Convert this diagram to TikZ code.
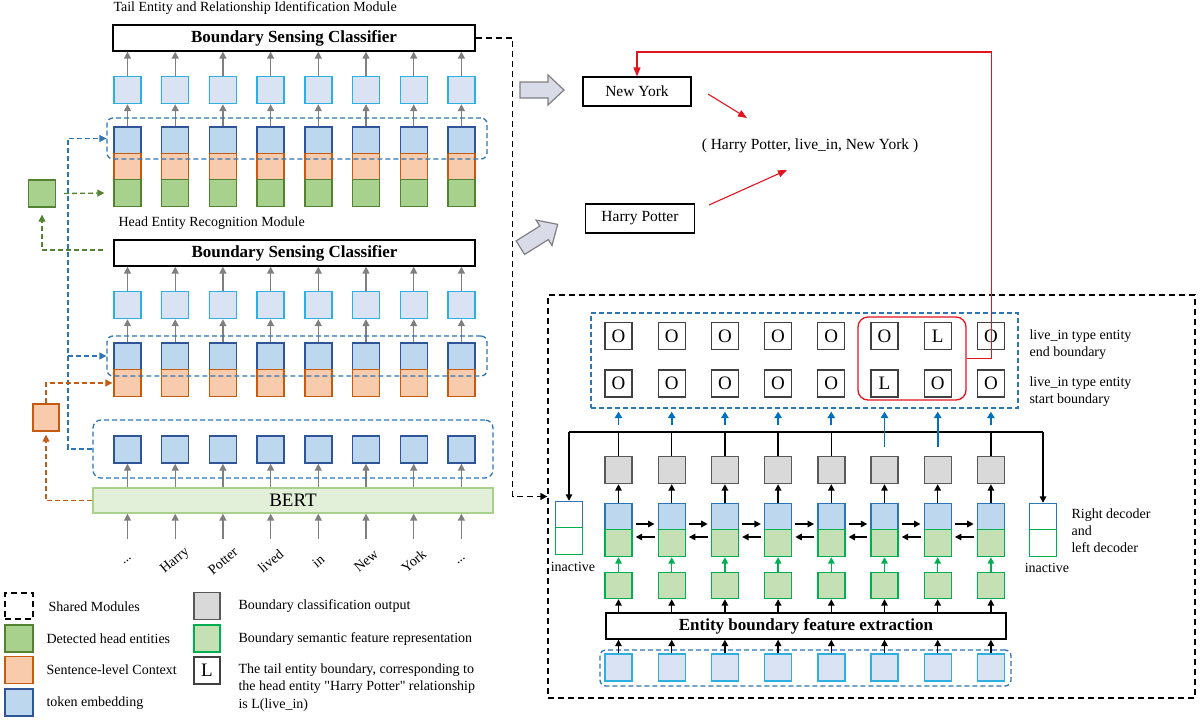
\documentclass[tikz,border=0pt]{standalone}
\usepackage{fontspec}
\setmainfont{Liberation Serif}
\usetikzlibrary{arrows.meta,calc}
\definecolor{cyanB}{HTML}{2DB0E0}
\definecolor{lavF}{HTML}{DAE3F3}
\definecolor{tokF}{HTML}{BDD7EE}
\definecolor{tokB}{HTML}{2F5597}
\definecolor{orF}{HTML}{F8CBAD}
\definecolor{orB}{HTML}{C55A11}
\definecolor{hgF}{HTML}{A9D18E}
\definecolor{hgB}{HTML}{548235}
\definecolor{bertF}{HTML}{E2F0D9}
\definecolor{bertB}{HTML}{A9D18E}
\definecolor{grF}{HTML}{D9D9D9}
\definecolor{grB}{HTML}{595959}
\definecolor{lgF}{HTML}{C5E0B4}
\definecolor{lgB}{HTML}{00B050}
\definecolor{dblue}{HTML}{2E75B6}
\definecolor{abl}{HTML}{0070C0}
\definecolor{agr}{HTML}{7F7F7F}
\definecolor{rd}{HTML}{E3141E}
\definecolor{arrF}{HTML}{D9DCE8}
\newcommand{\mydots}{...}
\begin{document}
\begin{tikzpicture}[x=1pt,y=-1pt,
  every node/.style={font=\fontsize{14}{17}\selectfont},
  sqbase/.style={minimum width=27pt,minimum height=27pt,inner sep=0pt,line width=1.4pt,draw},
  cyansq/.style={sqbase,draw=cyanB,fill=lavF},
  toksq/.style={sqbase,draw=tokB,fill=tokF},
  orsq/.style={sqbase,draw=orB,fill=orF},
  hgsq/.style={sqbase,draw=hgB,fill=hgF},
  graysq/.style={sqbase,draw=grB,fill=grF},
  lgsq/.style={sqbase,draw=lgB,fill=lgF},
  rbsq/.style={sqbase,draw=dblue,fill=tokF},
  wbsq/.style={sqbase,draw=dblue,fill=white},
  wgsq/.style={sqbase,draw=lgB,fill=white},
  olsq/.style={sqbase,draw=black!75,fill=white,line width=1.2pt,font=\fontsize{19}{19}\selectfont},
  bigbox/.style={draw,line width=1.3pt,inner sep=0pt,font=\bfseries\fontsize{17}{17}\selectfont},
  garr/.style={draw=agr,line width=1.4pt,-{Triangle[length=7pt,width=7pt]}},
  karr/.style={draw=black,line width=1.5pt,-{Triangle[length=6.5pt,width=6.5pt]}},
  barr/.style={draw=abl,line width=1.7pt,-{Triangle[length=6.5pt,width=7.5pt]}},
  grarr/.style={draw=lgB,line width=1.5pt,-{Triangle[length=6.5pt,width=6.5pt]}},
  bdash/.style={draw=dblue,line width=1.3pt,dash pattern=on 5pt off 3pt},
  kdash/.style={draw=black,line width=1.3pt,dash pattern=on 6pt off 4pt},
  gdash/.style={draw=hgB,line width=1.3pt,dash pattern=on 5pt off 3pt},
  odash/.style={draw=orB,line width=1.3pt,dash pattern=on 5pt off 3pt},
  dtip/.style={-{Triangle[length=7pt,width=7pt]}},
  redl/.style={draw=rd,line width=1.1pt},
  blockarr/.style={draw=agr,fill=arrF,line width=1.2pt,line join=miter}]
\useasboundingbox (0,0) rectangle (1200,720);

% ===================== LEFT PANEL =====================
\node[anchor=west] (tt1) at (110,8) {Tail Entity and Relationship Identification Module};
\node[bigbox,minimum width=362pt,minimum height=26pt] (bsc1) at (294,38) {Boundary Sensing Classifier};
\node[anchor=west] (tt2) at (115,223) {Head Entity Recognition Module};
\node[bigbox,minimum width=361pt,minimum height=26pt] (bsc2) at (294.5,253) {Boundary Sensing Classifier};
\node[draw=bertB,fill=bertF,line width=1.3pt,minimum width=400pt,minimum height=25pt,inner sep=0pt,font=\fontsize{19}{19}\selectfont] (bert) at (293,500.5) {BERT};

\foreach \i/\w in {0/\mydots,1/Harry,2/Potter,3/lived,4/in,5/New,6/York,7/\mydots}{
  \pgfmathsetmacro\cx{127.5+47.7*\i}
  \node[cyansq] (c1-\i) at (\cx,90) {};
  \node[toksq] (b1-\i) at (\cx,140.5) {};
  \node[orsq] (o1-\i) at (\cx,167) {};
  \node[hgsq] (g1-\i) at (\cx,193) {};
  \node[cyansq] (c2-\i) at (\cx,305) {};
  \node[toksq] (b2-\i) at (\cx,356.5) {};
  \node[orsq] (o2-\i) at (\cx,383) {};
  \node[toksq] (b3-\i) at (\cx,449.5) {};
  \coordinate (w-\i) at (\cx,539);
  \node[rotate=40,inner sep=0pt] (wd-\i) at (\cx,561) {\w};
  \draw[garr] (c1-\i.north) -- (c1-\i.north |- bsc1.south);
  \draw[garr] (b1-\i.north) -- (c1-\i.south);
  \draw[garr] (c2-\i.north) -- (c2-\i.north |- bsc2.south);
  \draw[garr] (b2-\i.north) -- (c2-\i.south);
  \draw[garr] (b3-\i.south |- bert.north) -- (b3-\i.south);
  \draw[garr] (w-\i) -- (w-\i |- bert.south);
}

\node[bdash,rounded corners=6pt,minimum width=380pt,minimum height=41pt,inner sep=0pt] (db1) at (297,138.5) {};
\node[bdash,rounded corners=6pt,minimum width=380pt,minimum height=40pt,inner sep=0pt] (db2) at (297,356) {};
\node[bdash,rounded corners=8pt,minimum width=400pt,minimum height=58pt,inner sep=0pt] (db3) at (293,449) {};

% side squares
\node[hgsq] (G0) at (42,193.5) {};
\node[orsq,minimum width=26pt] (O0) at (46,417.5) {};

\draw[gdash,dtip] ([xshift=8pt]G0.east) -- ([xshift=-9pt]g1-0.west);
\coordinate (gstart) at (103,250);
\draw[gdash,dtip] (gstart) -| ([yshift=-7pt]G0.south);

\coordinate (bv) at (68,449);
\draw[bdash,dtip] (db3.west) -- (bv) |- (db1.west);
\draw[bdash,dtip] (bv |- db2.west) -- (db2.west);

\draw[odash,dtip] (bert.west) -| ([yshift=-3pt]O0.south);
\draw[odash,dtip] (O0.north) |- ([xshift=-1pt]o2-0.west);

% ===================== RIGHT PANEL =====================
\node[kdash,minimum width=647pt,minimum height=403pt,inner sep=0pt] (rbox) at (871.5,496.5) {};
\draw[kdash,dtip] (bsc1.east) -- ++(37,0) |- (rbox.west);

% block arrows
\draw[blockarr] (520,82) -- (548,82) -- (548,75) -- (564,90) -- (548,105) -- (548,98) -- (520,98) -- cycle;
\begin{scope}[shift={(539,236)},rotate=32]
\draw[blockarr] (-22,-8) -- (6,-8) -- (6,-15) -- (22,0) -- (6,15) -- (6,8) -- (-22,8) -- cycle;
\end{scope}

\node[draw,line width=1.1pt,minimum width=108pt,minimum height=29pt,inner sep=0pt,font=\fontsize{15.5}{16}\selectfont] (ny) at (637,91.5) {New York};
\node[draw,line width=1.1pt,minimum width=109pt,minimum height=29pt,inner sep=0pt,font=\fontsize{15.5}{16}\selectfont] (hp) at (640,218.5) {Harry Potter};
\node[font=\fontsize{15.5}{16}\selectfont] (tup) at (810,146) {( Harry Potter, live\_in, New York )};
\coordinate (ra1) at (708,94);
\coordinate (rb1) at (747,118);
\coordinate (ra2) at (709,205);
\coordinate (rb2) at (787,170);
\draw[redl,-{Triangle[length=9pt,width=7pt]}] (ra1) -- (rb1);
\draw[redl,-{Triangle[length=9pt,width=7pt]}] (ra2) -- (rb2);

\foreach \i/\a/\b in {0/O/O,1/O/O,2/O/O,3/O/O,4/O/O,5/O/L,6/L/O,7/O/O}{
  \pgfmathsetmacro\cx{618.5+53.2*\i}
  \node[olsq] (e-\i) at (\cx,336) {\a};
  \node[olsq] (s-\i) at (\cx,383.5) {\b};
  \node[graysq] (gr-\i) at (\cx,470) {};
  \node[rbsq] (rb-\i) at (\cx,517) {};
  \node[lgsq] (rg-\i) at (\cx,543) {};
  \node[lgsq,minimum height=26pt] (lg-\i) at (\cx,585.5) {};
  \node[cyansq] (bc-\i) at (\cx,667.5) {};
}
\node[bdash,minimum width=427pt,minimum height=95pt,inner sep=0pt] (db4) at (804.5,360.5) {};
\node[bigbox,minimum width=400pt,minimum height=26pt] (ebfe) at (806,626) {Entity boundary feature extraction};
\node[bdash,rounded corners=6pt,minimum width=411pt,minimum height=36pt,inner sep=0pt] (db5) at (805.5,668) {};

\node[anchor=west,align=left] (lab1) at (1026,345) {live\_in type entity\\end boundary};
\node[anchor=west,align=left] (lab2) at (1026,392) {live\_in type entity\\start boundary};

% decoders
\node[wbsq] (ldb) at (569,515) {};
\node[wgsq] (ldg) at (569,541) {};
\node (lin) at (573,567) {inactive};
\node[wbsq] (rdb) at (1043,517) {};
\node[wgsq] (rdg) at (1043,543) {};
\node (rin) at (1047,568) {inactive};
\node[anchor=west,align=left] (rlab) at (1068,531) {Right decoder\\and\\left decoder};

\coordinate (busL) at (569,432);
\coordinate (busR) at (1043,432);
\draw[black,line width=1.5pt] (busL) -- (busR);
\draw[karr] (busL) -- (ldb.north);
\draw[karr] (busR) -- (rdb.north);

\foreach \i in {0,1,2,3,4,7}{
  \draw[black,line width=1.3pt] (gr-\i.north) -- (gr-\i.north |- busL);
  \draw[barr] ($(gr-\i.north |- busL)+(0,-7)$) -- ([yshift=-3pt]gr-\i.north |- db4.south);
}
\foreach \i in {5,6}{
  \draw[barr] ([yshift=9pt]gr-\i.north) -- ([yshift=-3pt]gr-\i.north |- db4.south);
}
\foreach \i in {0,...,7}{
  \draw[karr] (rb-\i.north) -- (gr-\i.south);
  \draw[grarr] (lg-\i.north) -- (rg-\i.south);
  \draw[karr] (lg-\i.south |- ebfe.north) -- (lg-\i.south);
  \draw[karr] (bc-\i.north) -- (bc-\i.north |- ebfe.south);
}
\foreach \i [evaluate=\i as \j using int(\i+1)] in {0,...,6}{
  \draw[karr] ([xshift=3pt,yshift=-7pt]rb-\i.east) -- ([xshift=-3pt,yshift=-7pt]rb-\j.west);
  \draw[karr] ([xshift=-3pt,yshift=6pt]rg-\j.west) -- ([xshift=3pt,yshift=6pt]rg-\i.east);
}

% red selection and path
\node[draw=rd,line width=1.3pt,rounded corners=10pt,minimum width=108pt,minimum height=83pt,inner sep=0pt] (redbox) at (912,358.5) {};
\coordinate (rtop) at (637,52);
\draw[redl,-{Triangle[length=9pt,width=7pt]}] (redbox.east) -- ++(25,0) |- (rtop) -- (ny.north);

% ===================== LEGEND =====================
\node[kdash,minimum width=28pt,minimum height=26pt,inner sep=0pt,line width=1.1pt] (k1) at (19,606) {};
\node[anchor=west] (k1t) at (45,607) {Shared Modules};
\node[hgsq,minimum width=28pt] (k2) at (19,638.5) {};
\node[anchor=west] (k2t) at (43,639) {Detected head entities};
\node[orsq,minimum width=28pt] (k3) at (19,670) {};
\node[anchor=west] (k3t) at (43,670) {Sentence-level Context};
\node[toksq,minimum width=28pt] (k4) at (19,702.5) {};
\node[anchor=west] (k4t) at (43,703) {token embedding};
\node[graysq,minimum width=26pt] (k5) at (207,606) {};
\node[anchor=west] (k5t) at (235,606) {Boundary classification output};
\node[lgsq,minimum width=26pt] (k6) at (207,638.5) {};
\node[anchor=west] (k6t) at (235,639) {Boundary semantic feature representation};
\node[olsq,minimum width=26pt] (k7) at (207,670.5) {L};
\node[anchor=west,align=left,font=\fontsize{14}{17.5}\selectfont] (k7t) at (235,687.5) {The tail entity boundary, corresponding to\\the head entity \textquotedbl Harry Potter\textquotedbl{} relationship\\is L(live\_in)};
\end{tikzpicture}
\end{document}
